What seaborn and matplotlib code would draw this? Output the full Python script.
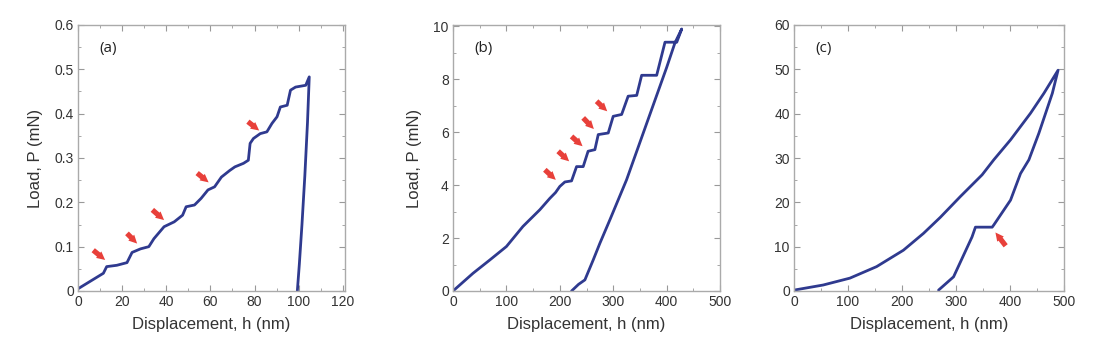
import numpy as np
import pandas as pd
import matplotlib
matplotlib.use('Agg')
import matplotlib.pyplot as plt
from matplotlib.ticker import MultipleLocator, FuncFormatter
import seaborn as sns

sns.set_style('ticks')
plt.rcParams['font.family'] = ['Liberation Sans', 'DejaVu Sans']

# (a) load / unload, h in nm, P in mN
a_h = [0, 11.5, 13, 17.6, 22.2, 24.5, 28.3, 32.1, 34.4, 39, 43.6, 47.4, 49, 52.8,
       55.8, 58.9, 61.9, 65, 68.8, 71.1, 75, 77.2, 78, 79.5, 82.6, 85.6, 87.9,
       90.2, 91.7, 94.8, 96.3, 98.6, 103.2, 104.8,
       104.0, 102.8, 101.5, 100.3, 99.4]
a_p = [0.005, 0.04, 0.055, 0.058, 0.064, 0.087, 0.095, 0.1, 0.118, 0.145, 0.156,
       0.171, 0.19, 0.194, 0.209, 0.228, 0.235, 0.257, 0.272, 0.28, 0.288, 0.295,
       0.333, 0.344, 0.355, 0.359, 0.378, 0.393, 0.415, 0.419, 0.453, 0.46, 0.464,
       0.483,
       0.38, 0.26, 0.15, 0.06, 0.0]
a_arrows = [(6.9, 0.092, 12.3, 0.070), (22.2, 0.130, 26.8, 0.107),
            (33.7, 0.183, 39.0, 0.160), (54.0, 0.266, 59.2, 0.245),
            (77.0, 0.382, 82.1, 0.362)]

# (b)
b_h = [0, 37.5, 68.8, 100, 131, 162.6, 181.3, 192, 200, 209.5, 222, 231.4, 243.8,
       253, 265.7, 272, 290.7, 300, 315.8, 328, 344, 353.3, 381.4, 397, 419, 428.3,
       415.7, 400, 387.6, 356.3, 325, 293.8, 275, 262.5, 247, 235, 222]
b_p = [0, 0.67, 1.17, 1.68, 2.44, 3.07, 3.5, 3.72, 3.95, 4.12, 4.16, 4.7, 4.7,
       5.28, 5.34, 5.91, 5.97, 6.6, 6.67, 7.36, 7.39, 8.15, 8.15, 9.4, 9.4, 9.9,
       9.38, 8.44, 7.74, 5.97, 4.2, 2.69, 1.8, 1.17, 0.42, 0.25, 0]
b_arrows = [(172, 4.58, 192.5, 4.2), (196.9, 5.28, 217.5, 4.9),
            (222, 5.84, 242.6, 5.47), (243.8, 6.54, 263.8, 6.12),
            (268.9, 7.17, 288.8, 6.79)]

# (c)
c_h = [0, 54, 103.5, 153, 202.6, 239.8, 270.8, 308, 348.3, 370, 401, 438, 462.8, 489,
       478.4, 453.5, 435, 419.5, 401, 370, 367, 336, 329.7, 295.5, 267.7]
c_p = [0.2, 1.35, 2.9, 5.5, 9.2, 13, 16.6, 21.3, 26.2, 29.6, 34.1, 40.1, 44.6, 49.8,
       44.6, 35.6, 29.6, 26.5, 20.5, 14.9, 14.4, 14.4, 12.2, 3.2, 0.2]
c_arrows = [(392, 10.2, 373, 13.2)]

line_col = '#2f3a8f'
arrow_col = '#e8403a'

fig = plt.figure(figsize=(10.97, 3.59), dpi=100)
boxes = [(78/1097, 68/359, 267/1097, 266/359),
         (453/1097, 68/359, 267/1097, 266/359),
         (794/1097, 68/359, 270/1097, 266/359)]

panels = [
    dict(h=a_h, p=a_p, arrows=a_arrows, xlim=(0, 121), ylim=(0, 0.6),
         xmaj=20, xmin=10, ymaj=0.1, ymin=0.05, tag='(a)', ylab=True),
    dict(h=b_h, p=b_p, arrows=b_arrows, xlim=(0, 500), ylim=(0, 10.05),
         xmaj=100, xmin=50, ymaj=2, ymin=1, tag='(b)', ylab=True),
    dict(h=c_h, p=c_p, arrows=c_arrows, xlim=(0, 500), ylim=(0, 60),
         xmaj=100, xmin=50, ymaj=10, ymin=5, tag='(c)', ylab=False),
]

fmt = FuncFormatter(lambda v, pos: '{:g}'.format(round(v, 6)))

for box, pn in zip(boxes, panels):
    ax = fig.add_axes(box)
    df = pd.DataFrame({'h': pn['h'], 'P': pn['p']})
    sns.lineplot(data=df, x='h', y='P', sort=False, estimator=None,
                 color=line_col, linewidth=2, ax=ax)
    for x0, y0, x1, y1 in pn['arrows']:
        ax.annotate('', xy=(x1, y1), xytext=(x0, y0),
                    arrowprops=dict(arrowstyle='simple,head_length=0.4,head_width=0.4,tail_width=0.25',
                                    color=arrow_col, lw=0, mutation_scale=15,
                                    shrinkA=0, shrinkB=0))
    ax.set_xlim(*pn['xlim'])
    ax.set_ylim(*pn['ylim'])
    ax.xaxis.set_major_locator(MultipleLocator(pn['xmaj']))
    ax.xaxis.set_minor_locator(MultipleLocator(pn['xmin']))
    ax.yaxis.set_major_locator(MultipleLocator(pn['ymaj']))
    ax.yaxis.set_minor_locator(MultipleLocator(pn['ymin']))
    ax.xaxis.set_major_formatter(fmt)
    ax.yaxis.set_major_formatter(fmt)
    ax.tick_params(which='both', direction='in', top=True, right=True,
                   colors='#999999', labelcolor='#333333', labelsize=10, pad=3)
    ax.tick_params(which='major', length=4)
    ax.tick_params(which='minor', length=2)
    for s in ax.spines.values():
        s.set_color('#aaaaaa')
        s.set_linewidth(1)
    ax.set_xlabel('Displacement, h (nm)', fontsize=12, color='#333333', labelpad=6)
    if pn['ylab']:
        ax.set_ylabel('Load, P (mN)', fontsize=12, color='#333333', labelpad=8)
    else:
        ax.set_ylabel('')
    ax.text(0.08, 0.94, pn['tag'], transform=ax.transAxes, fontsize=11,
            family=['Open Sans', 'DejaVu Sans'], color='#222222', va='top')

fig.savefig('out.png', dpi=100)
